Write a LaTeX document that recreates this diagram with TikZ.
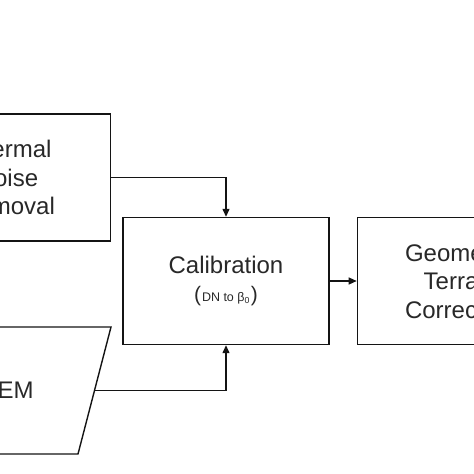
\documentclass[tikz,border=0pt]{standalone}
\usepackage{fontspec}
\setmainfont{Liberation Sans}
\usetikzlibrary{shapes.geometric, arrows.meta, positioning}
\definecolor{boxline}{RGB}{20,20,20}
\definecolor{labeltext}{RGB}{40,40,40}
\tikzset{
  block/.style={rectangle, draw=boxline, line width=1.4pt, minimum width=206pt,
    minimum height=127pt, align=center, text=labeltext, inner sep=0pt,
    font=\fontsize{24}{28.5}\selectfont},
  datalabel/.style={text=labeltext, font=\fontsize{24}{28.5}\selectfont},
  dataline/.style={draw=boxline, line width=1.4pt, line join=miter},
  arrow/.style={-{Triangle[length=8pt, width=7pt]}, line width=1.3pt, color=boxline},
}
\newcommand{\bigparen}[1]{{\fontsize{21}{24}\selectfont #1}}
\newcommand{\smalltext}[1]{{\fontsize{12.5}{14}\selectfont #1}}

\begin{document}
\begin{tikzpicture}[x=1pt, y=-1pt]
  \useasboundingbox (0,0) rectangle (474,474);
  \clip (0,0) rectangle (474,474);
  % Processing steps
  \node[block] (thermal) at (7.5,177.5) {Thermal\\Noise\\Removal};
  \node[block] (calib) at (226,281)
    {Calibration\\[0pt]\bigparen{(}\kern1pt\smalltext{DN to β\textsubscript{0}}\kern1pt\bigparen{)}};
  \node[block, right=27pt of calib] (geom) {Geometric\\Terrain\\Correction};
  % Input data (parallelogram)
  \draw[dataline] (-64,327) -- (111,327) -- (78,454) -- (-97,454) -- cycle;
  \node[datalabel] (dem) at (7,390.5) {DEM};
  \coordinate (demside) at (94.5,390.5);
  % Connections
  \draw[arrow] (thermal.east) -| (calib.north);
  \draw[arrow] (demside) -| (calib.south);
  \draw[arrow] (calib.east) -- (geom.west);
\end{tikzpicture}
\end{document}
